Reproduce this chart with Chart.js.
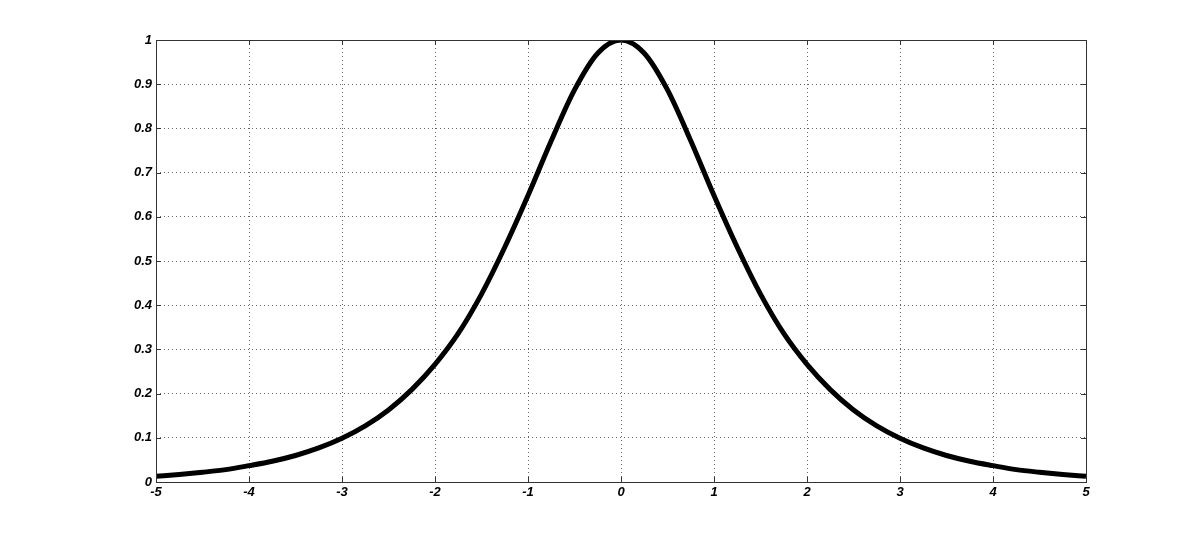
<!DOCTYPE html>
<html>
<head>
<meta charset="utf-8">
<script src="https://cdn.jsdelivr.net/npm/chart.js@4/dist/chart.umd.min.js"></script>
<style>
html,body{margin:0;padding:0;background:#fff;}
canvas{display:block;}
</style>
</head>
<body>
<canvas id="c" width="1200" height="542"></canvas>
<script>
// Data
const xValues = [-5,-4.75,-4.5,-4.25,-4,-3.75,-3.5,-3.25,-3,-2.75,-2.5,-2.25,-2,-1.75,-1.5,-1.25,-1,-0.75,-0.5,-0.25,0,
                 0.25,0.5,0.75,1,1.25,1.5,1.75,2,2.25,2.5,2.75,3,3.25,3.5,3.75,4,4.25,4.5,4.75,5];
const yValues = [0.013,0.017,0.022,0.028,0.037,0.047,0.060,0.077,0.099,0.127,0.163,0.209,0.266,0.336,0.425,0.531,0.648,0.772,0.887,0.970,1.0,
                 0.970,0.887,0.772,0.648,0.531,0.425,0.336,0.266,0.209,0.163,0.127,0.099,0.077,0.060,0.047,0.037,0.028,0.022,0.017,0.013];
const xTicks = [-5,-4,-3,-2,-1,0,1,2,3,4,5];
const yTicks = [0,0.1,0.2,0.3,0.4,0.5,0.6,0.7,0.8,0.9,1];

const points = xValues.map((x,i)=>({x:x,y:yValues[i]}));

const boxPlugin = {
  id:'box',
  afterDraw(chart){
    const {ctx, chartArea:a, scales} = chart;
    ctx.save();
    ctx.strokeStyle = '#333';
    ctx.lineWidth = 1;
    ctx.setLineDash([]);
    ctx.strokeRect(a.left+0.5, a.top+0.5, a.right-a.left, a.bottom-a.top);
    const L = 5;
    ctx.beginPath();
    xTicks.forEach(v=>{
      const px = Math.round(scales.x.getPixelForValue(v))+0.5;
      ctx.moveTo(px,a.bottom); ctx.lineTo(px,a.bottom-L);
      ctx.moveTo(px,a.top); ctx.lineTo(px,a.top+L);
    });
    yTicks.forEach(v=>{
      const py = Math.round(scales.y.getPixelForValue(v))+0.5;
      ctx.moveTo(a.left,py); ctx.lineTo(a.left+L,py);
      ctx.moveTo(a.right,py); ctx.lineTo(a.right-L,py);
    });
    ctx.stroke();
    ctx.restore();
  }
};

const tickFont = {family:'"Liberation Sans", Arial, sans-serif', size:13, weight:'bold', style:'italic'};

new Chart(document.getElementById('c'), {
  type:'line',
  data:{datasets:[{
    data:points,
    borderColor:'#000',
    borderWidth:5,
    pointRadius:0,
    fill:false,
    cubicInterpolationMode:'monotone'
  }]},
  options:{
    responsive:false,
    devicePixelRatio:1,
    animation:false,
    layout:{padding:{left:116,right:114,top:40,bottom:30}},
    plugins:{legend:{display:false},tooltip:{enabled:false}},
    scales:{
      x:{
        type:'linear', min:-5, max:5,
        afterBuildTicks(s){ s.ticks = xTicks.map(v=>({value:v})); },
        afterFit(s){ s.height = 30; },
        ticks:{color:'#000', font:tickFont, padding:3, maxRotation:0, callback:v=>String(v)},
        grid:{color:'#666', lineWidth:1, drawTicks:false},
        border:{display:false, dash:[1,3]}
      },
      y:{
        type:'linear', min:0, max:1,
        afterBuildTicks(s){ s.ticks = yTicks.map(v=>({value:v})); },
        afterFit(s){ s.width = 40; },
        ticks:{color:'#000', font:tickFont, padding:4, callback:v=>String(Number(v.toFixed(1)))},
        grid:{color:'#666', lineWidth:1, drawTicks:false},
        border:{display:false, dash:[1,3]}
      }
    }
  },
  plugins:[{
    id:'bg',
    beforeDraw(chart){const c=chart.ctx;c.save();c.fillStyle='#fff';c.fillRect(0,0,chart.width,chart.height);c.restore();}
  }, boxPlugin]
});
</script>
</body>
</html>
